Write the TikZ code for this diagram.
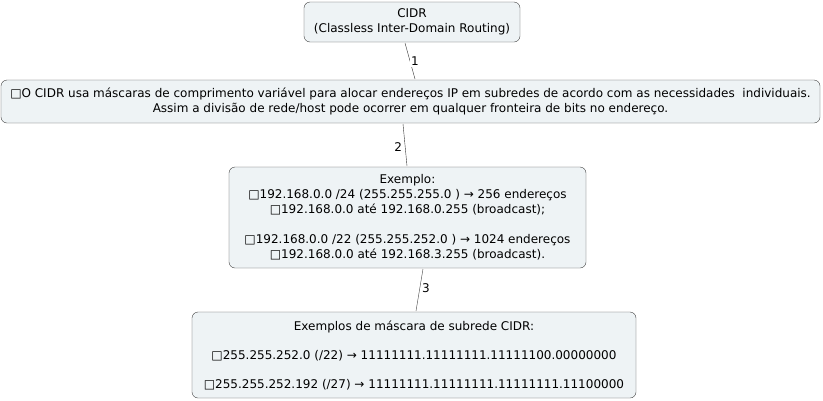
\documentclass[tikz,border=0pt]{standalone}
\usepackage{fontspec}
\setmainfont{DejaVu Sans}
\begin{document}
\begin{tikzpicture}[x=1pt,y=-1pt,
  box/.style={draw=black!75,fill=boxc,rounded corners=6pt,align=center,inner sep=0pt,font=\fontsize{12}{15}\selectfont},
  conn/.style={draw=black!80},
  lab/.style={fill=white,inner sep=1.5pt,font=\fontsize{12}{13}\selectfont}]
\definecolor{boxc}{HTML}{EEF3F5}
\useasboundingbox (0,0) rectangle (823,400);
\node[box,minimum width=216pt,minimum height=40pt] (a) at (412,22) {CIDR\\(Classless Inter-Domain Routing)};
\node[box,minimum width=819pt,minimum height=43pt] (b) at (410.5,101.5) {□O CIDR usa máscaras de comprimento variável para alocar endereços IP em subredes de acordo com as necessidades\ \ individuais.\\Assim a divisão de rede/host pode ocorrer em qualquer fronteira de bits no endereço.};
\node[box,minimum width=357pt,minimum height=101pt] (c) at (407.5,217.5) {Exemplo:\\□192.168.0.0 /24 (255.255.255.0 ) → 256 endereços\\□192.168.0.0 até 192.168.0.255 (broadcast);\\[15pt]□192.168.0.0 /22 (255.255.252.0 ) → 1024 endereços\\□192.168.0.0 até 192.168.3.255 (broadcast).};
\node[box,minimum width=444pt,minimum height=86pt,font=\fontsize{12}{14.5}\selectfont] (d) at (414,355) {Exemplos de máscara de subrede CIDR:\\[14.5pt]□255.255.252.0 (/22) → 11111111.11111111.11111100.00000000\\[14.5pt]□255.255.252.192 (/27) → 11111111.11111111.11111111.11100000};
\coordinate (a1) at (405,43); \coordinate (b1) at (415,79);
\coordinate (b2) at (403,124); \coordinate (c2) at (407,166);
\coordinate (c3) at (423,269); \coordinate (d3) at (416,311);
\draw[conn] (a1) -- node[lab,pos=0.5,xshift=5pt] (l1) {1} (b1);
\draw[conn] (b2) -- node[lab,pos=0.55,xshift=-7pt] (l2) {2} (c2);
\draw[conn] (c3) -- node[lab,pos=0.45,xshift=6pt] (l3) {3} (d3);
\end{tikzpicture}
\end{document}
